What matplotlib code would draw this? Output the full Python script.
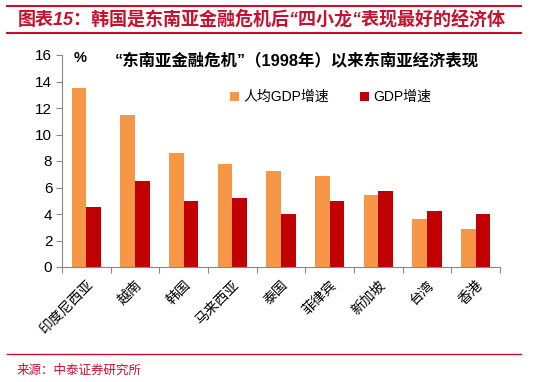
import numpy as np
import matplotlib.pyplot as plt
from matplotlib.lines import Line2D

plt.rcParams['font.family'] = ['Liberation Sans', 'Noto Sans CJK SC']

regions = ["印度尼西亚", "越南", "韩国", "马来西亚", "泰国", "菲律宾", "新加坡", "台湾", "香港"]
gdp_per_capita = [13.5, 11.5, 8.6, 7.8, 7.25, 6.9, 5.4, 3.6, 2.9]
gdp_growth = [4.5, 6.5, 5.0, 5.2, 4.0, 4.95, 5.7, 4.2, 4.0]
yticks = [0, 2, 4, 6, 8, 10, 12, 14, 16]

ORANGE = "#F79646"
RED = "#C00000"
HEAD = "#C8102E"

fig = plt.figure(figsize=(5.5, 3.82), dpi=100)
ax = fig.add_axes([62 / 550, 1 - 267 / 382, 438 / 550, 212 / 382])

x = np.arange(len(regions))
w = 0.3
ax.bar(x - w / 2, gdp_per_capita, w, color=ORANGE, label="人均GDP增速")
ax.bar(x + w / 2, gdp_growth, w, color=RED, label="GDP增速")

ax.set_xlim(-0.5, len(regions) - 0.5)
ax.set_ylim(0, 16)
ax.set_yticks(yticks)
ax.tick_params(axis='y', labelsize=11, length=4, color="#888888", width=0.8, pad=3)
ax.set_xticks(np.arange(len(regions) + 1) - 0.5, minor=True)
ax.set_xticks(x)
ax.set_xticklabels(regions, rotation=45, ha='right', va='top', rotation_mode='anchor', fontsize=10)
ax.tick_params(axis='x', which='major', length=0, pad=8)
ax.tick_params(axis='x', which='minor', length=4, color="#888888", width=0.8)
for s in ['top', 'right']:
    ax.spines[s].set_visible(False)
for s in ['left', 'bottom']:
    ax.spines[s].set_color("#888888")
    ax.spines[s].set_linewidth(0.8)

ax.legend(loc='upper left', bbox_to_anchor=(0.37, 0.86), ncol=2, frameon=False,
          fontsize=10, handlelength=0.7, handleheight=0.7, handletextpad=0.3,
          columnspacing=2.2, borderaxespad=0)

fig.text(80 / 550, 1 - 58 / 382, "%", fontsize=10.5, fontweight='bold', ha='center', va='center')
fig.text(297 / 550, 1 - 60 / 382, "“东南亚金融危机”（1998年）以来东南亚经济表现",
         fontsize=11.8, fontweight='bold', ha='center', va='center')

# header and footer
fig.add_artist(Line2D([7 / 550, 521 / 550], [1 - 5.5 / 382] * 2, color=HEAD, lw=1.5))
fig.add_artist(Line2D([7 / 550, 521 / 550], [1 - 33 / 382] * 2, color=HEAD, lw=1.5))
fig.text(18 / 550, 1 - 19.5 / 382, "图表15：韩国是东南亚金融危机后“四小龙“表现最好的经济体",
         fontsize=13, fontweight='bold', fontstyle='italic', color=HEAD, ha='left', va='center')
fig.add_artist(Line2D([7 / 550, 521 / 550], [1 - 354 / 382] * 2, color=HEAD, lw=1.0))
fig.text(17 / 550, 1 - 371 / 382, "来源：中泰证券研究所", fontsize=9, color=HEAD, ha='left', va='center')

fig.savefig("out.png", dpi=100)
